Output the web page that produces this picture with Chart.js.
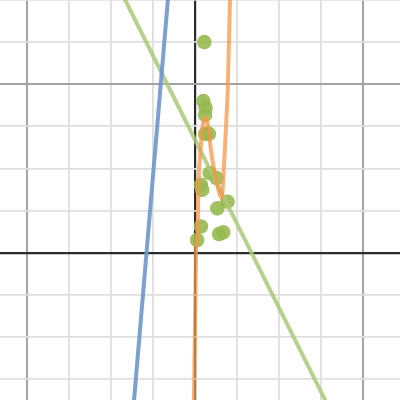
<!DOCTYPE html>
<html>
<head>
<meta charset="utf-8">
<script src="https://cdn.jsdelivr.net/npm/chart.js@4"></script>
<style>
html,body{margin:0;padding:0;background:#fff;}
#wrap{width:400px;height:400px;}
</style>
</head>
<body>
<div id="wrap"><canvas id="c" width="400" height="400"></canvas></div>
<script>
// Scatter points (x, y)
const pointX = [0.22, 0.20, 0.25, 0.24, 0.24, 0.33, 0.35, 0.51, 0.14, 0.17, 0.77, 0.53, 0.14, 0.57, 0.67, 0.05];
const pointY = [5.00, 3.60, 3.44, 3.27, 2.82, 2.82, 1.89, 1.77, 1.61, 1.49, 1.21, 1.05, 0.62, 0.44, 0.48, 0.30];

// Orange fitted curve
const curveX = [-0.030, 0.024, 0.064, 0.078, 0.119, 0.178, 0.261, 0.40, 0.50, 0.63, 0.70, 0.74, 0.777, 0.83, 0.85];
const curveY = [-4.0, 0.0, 0.54, 1.49, 2.27, 2.98, 3.20, 2.28, 1.73, 1.31, 2.28, 3.08, 3.86, 6.0, 7.0];

// Blue line endpoints
const blueX = [-1.49, -0.56];
const blueY = [-4.0, 7.0];

// Green line endpoints
const greenX = [-2.16, 3.34];
const greenY = [7.0, -4.0];

// Axis ranges
const xMin = -4.632, xMax = 4.869;
const yMin = -3.50, yMax = 6.00;
const majorEvery = 4;

const toXY = (xs, ys) => xs.map((x, i) => ({x: x, y: ys[i]}));

function gridColor(ctx) {
  const v = ctx.tick ? ctx.tick.value : null;
  if (v === 0) return '#2b2b2b';
  if (v !== null && Math.abs(v % majorEvery) < 1e-9) return '#a3a3a3';
  return '#dedede';
}
function gridWidth(ctx) {
  const v = ctx.tick ? ctx.tick.value : null;
  if (v === 0) return 2.2;
  if (v !== null && Math.abs(v % majorEvery) < 1e-9) return 2;
  return 1.8;
}

new Chart(document.getElementById('c'), {
  type: 'scatter',
  data: {
    datasets: [
      {
        label: 'points',
        data: toXY(pointX, pointY),
        backgroundColor: 'rgba(150,185,80,0.9)',
        borderWidth: 0,
        pointRadius: 7.3,
        order: 4
      },
      {
        label: 'green',
        type: 'line',
        data: toXY(greenX, greenY),
        borderColor: 'rgba(170,200,120,0.85)',
        borderWidth: 4,
        pointRadius: 0,
        fill: false,
        order: 3
      },
      {
        label: 'blue',
        type: 'line',
        data: toXY(blueX, blueY),
        borderColor: 'rgba(110,150,205,0.9)',
        borderWidth: 4,
        pointRadius: 0,
        fill: false,
        order: 2
      },
      {
        label: 'orange',
        type: 'line',
        data: toXY(curveX, curveY),
        borderColor: 'rgba(247,150,70,0.75)',
        borderWidth: 4,
        pointRadius: 0,
        fill: false,
        cubicInterpolationMode: 'monotone',
        order: 1
      }
    ]
  },
  options: {
    responsive: false,
    animation: false,
    layout: {padding: 0, autoPadding: false},
    plugins: {legend: {display: false}, tooltip: {enabled: false}},
    scales: {
      x: {
        type: 'linear',
        min: xMin, max: xMax,
        ticks: {display: false, stepSize: 1, includeBounds: false},
        grid: {color: gridColor, lineWidth: gridWidth, drawTicks: false},
        border: {display: false}
      },
      y: {
        type: 'linear',
        min: yMin, max: yMax,
        ticks: {display: false, stepSize: 1, includeBounds: false},
        grid: {color: gridColor, lineWidth: gridWidth, drawTicks: false},
        border: {display: false}
      }
    }
  }
});
</script>
</body>
</html>
